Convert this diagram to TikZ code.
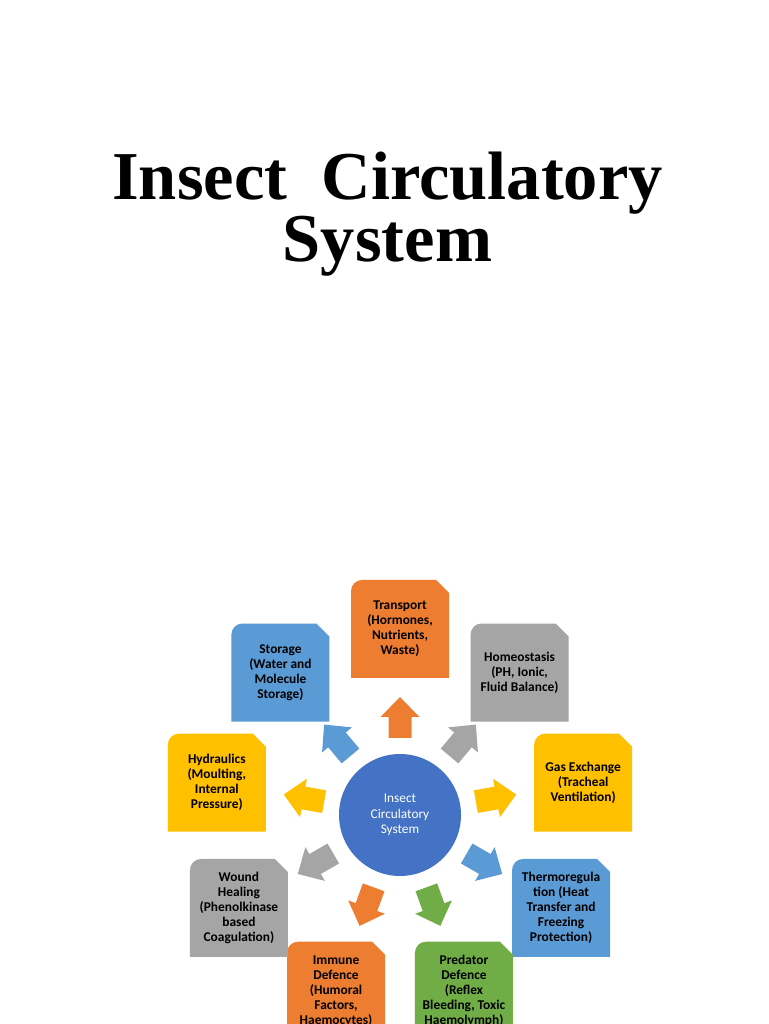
\documentclass[tikz,border=0pt]{standalone}
\usepackage{fontspec}
\usetikzlibrary{calc}
\setmainfont{Carlito}
\newfontfamily\titlefont{Liberation Serif}
\definecolor{cblue}{HTML}{5B9BD5}
\definecolor{corange}{HTML}{ED7D31}
\definecolor{cgray}{HTML}{A5A5A5}
\definecolor{cgold}{HTML}{FFC000}
\definecolor{cgreen}{HTML}{70AD47}
\definecolor{cdark}{HTML}{4472C4}
\tikzset{
  box/.style={minimum width=98pt, minimum height=98pt, inner sep=0pt, align=center,
    font=\bfseries\fontsize{13.4}{15}\selectfont, text=black,
    path picture={\fill[#1] (path picture bounding box.south west)
      -- ([yshift=-11pt]path picture bounding box.north west)
      arc[start angle=180,end angle=90,radius=11pt]
      -- ([xshift=-13pt]path picture bounding box.north east)
      -- ([yshift=-13pt]path picture bounding box.north east)
      -- (path picture bounding box.south east) -- cycle;}},
  titletext/.style={font=\titlefont\bfseries\fontsize{68.5}{68.5}\selectfont, anchor=base, inner sep=0pt},
}
\newcommand{\radarrow}[2]{%
  \begin{scope}[shift={(hub.center)}, rotate=#1]
    \fill[#2] (77,-11.5) -- (98,-11.5) -- (98,-19.5) -- (118,0) -- (98,19.5) -- (98,11.5) -- (77,11.5) -- cycle;
  \end{scope}}
\begin{document}
\begin{tikzpicture}[x=1pt,y=1pt]
\path[use as bounding box, clip] (0,0) rectangle (768,1024);
\fill[white] (0,0) rectangle (768,1024);
% title
\node[titletext] (t1) at (387.5,824) {Insect\ \ Circulatory};
\node[titletext] (t2) at (387.5,762) {System};
% hub
\node[circle, fill=cdark, minimum size=122pt, inner sep=0pt, align=center, text=white,
  font=\fontsize{13.3}{15.5}\selectfont] (hub) at (400,209) {Insect\\Circulatory\\System};
% boxes
\node[box=corange] (transport) at ($(hub.center)+(90:186)$) {Transport\\(Hormones,\\Nutrients,\\Waste)};
\node[box=cgray] (homeo) at ($(hub.center)+(50:186)$) {Homeostasis\\(PH, Ionic,\\Fluid Balance)};
\node[box=cgold] (gas) at ($(hub.center)+(10:186)$) {Gas Exchange\\(Tracheal\\Ventilation)};
\node[box=cblue] (thermo) at ($(hub.center)+(-30:186)$) {Thermoregula\\tion (Heat\\Transfer and\\Freezing\\Protection)};
\node[box=cgreen] (predator) at ($(hub.center)+(-70:187)$) {Predator\\Defence\\(Reflex\\Bleeding, Toxic\\Haemolymph)};
\node[box=corange] (immune) at ($(hub.center)+(-110:187)$) {Immune\\Defence\\(Humoral\\Factors,\\Haemocytes)};
\node[box=cgray] (wound) at ($(hub.center)+(-150:186)$) {Wound\\Healing\\(Phenolkinase\\based\\Coagulation)};
\node[box=cgold] (hydraulics) at ($(hub.center)+(170:186)$) {Hydraulics\\(Moulting,\\Internal\\Pressure)};
\node[box=cblue] (storage) at ($(hub.center)+(130:186)$) {Storage\\(Water and\\Molecule\\Storage)};
% arrows
\radarrow{90}{corange}
\radarrow{50}{cgray}
\radarrow{10}{cgold}
\radarrow{-30}{cblue}
\radarrow{-70}{cgreen}
\radarrow{-110}{corange}
\radarrow{-150}{cgray}
\radarrow{170}{cgold}
\radarrow{130}{cblue}
\end{tikzpicture}
\end{document}
